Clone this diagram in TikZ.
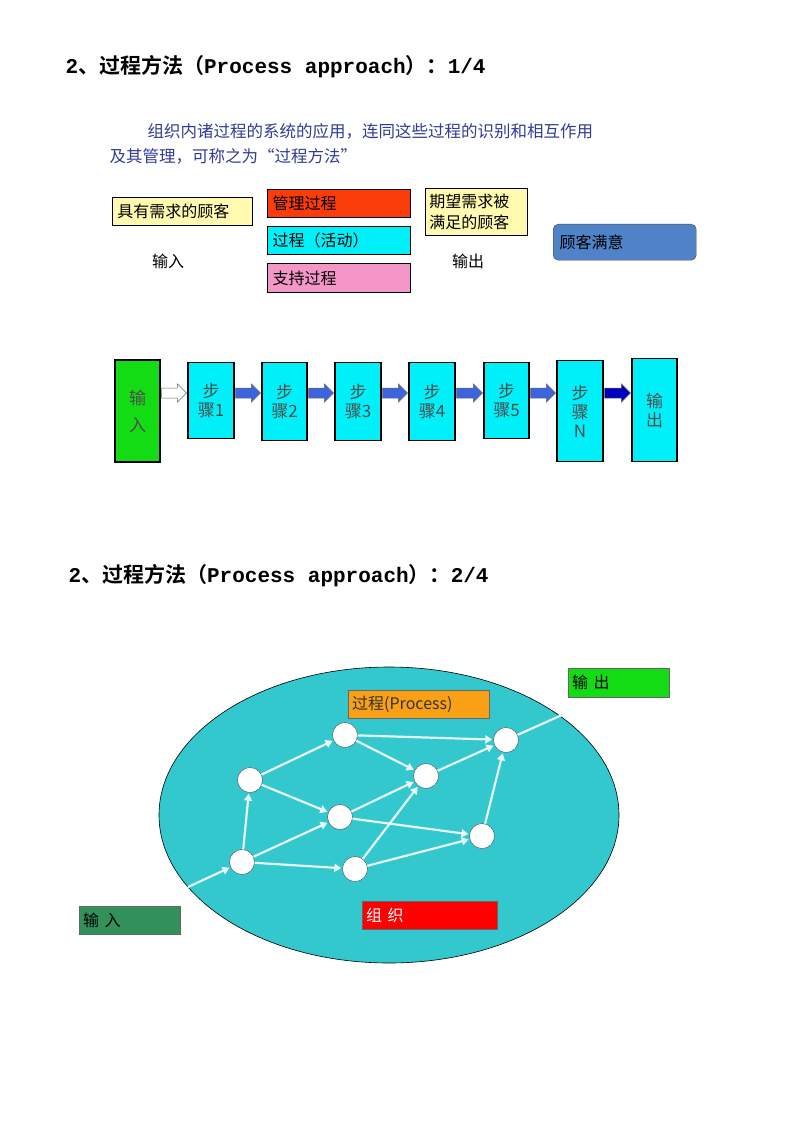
\documentclass[tikz,border=0pt]{standalone}
\usepackage{fontspec}
\setmainfont{Liberation Sans}
\newfontfamily\cjk{Noto Sans CJK SC}
\newfontfamily\cjkb{Noto Sans CJK SC Bold}
\newfontfamily\monob{Liberation Mono Bold}
\usetikzlibrary{arrows.meta}
\definecolor{cy}{RGB}{0,240,250}
\definecolor{ell}{RGB}{50,200,205}
\definecolor{gr}{RGB}{20,220,20}
\definecolor{ye}{RGB}{255,250,175}
\definecolor{rd}{RGB}{250,60,10}
\definecolor{pk}{RGB}{245,150,200}
\definecolor{bl}{RGB}{80,130,200}
\definecolor{arr}{RGB}{60,100,220}
\definecolor{dk}{RGB}{50,60,150}
\definecolor{or}{RGB}{250,160,20}
\definecolor{dg}{RGB}{50,145,90}
\begin{document}
\begin{tikzpicture}[x=1pt,y=-1pt,font=\cjk,
 bx/.style={draw=black,line width=0.8pt,anchor=north west,inner sep=4pt,align=left},
 stp/.style={draw=black,line width=1.2pt,fill=cy,align=center,font=\cjk\fontsize{17}{19}\selectfont,text=black!70},
 cir/.style={circle,draw=black!70,fill=white,minimum size=25pt,inner sep=0pt},
 wa/.style={draw=white!90!cyan,line width=2.2pt,-{Triangle[length=7pt,width=8pt]},shorten >=1pt},
 tl/.style={anchor=west,font=\fontsize{21}{24}\selectfont}]
\useasboundingbox (0,0) rectangle (793,1123);
\fill[white] (0,0) rectangle (793,1123);
% titles
\node[tl] (t1) at (62,67) {\monob 2\cjkb 、过程方法（\monob Process approach\cjkb ）：\monob 1/4};
\node[tl] (t2) at (65,576) {\monob 2\cjkb 、过程方法（\monob Process approach\cjkb ）：\monob 2/4};
% description
\node[anchor=north west,align=left,text=dk,font=\cjk\fontsize{16.5}{25}\selectfont] (desc) at (106,120) {\hspace*{38pt}组织内诸过程的系统的应用，连同这些过程的识别和相互作用\\及其管理，可称之为“过程方法”};
% boxes
\node[bx,fill=ye,minimum width=140pt,minimum height=28pt,text width=130pt,font=\cjk\fontsize{16}{18}\selectfont] (cust) at (112,197) {具有需求的顾客};
\node[bx,fill=rd,minimum width=143pt,minimum height=28pt,text width=133pt,line width=1.2pt,font=\cjk\fontsize{16}{18}\selectfont] (mgmt) at (267,189) {管理过程};
\node[bx,fill=cy,minimum width=143pt,minimum height=28pt,text width=133pt,line width=1.2pt,font=\cjk\fontsize{16}{18}\selectfont] (act) at (267,226) {过程（活动）};
\node[bx,fill=pk,minimum width=143pt,minimum height=29pt,text width=133pt,line width=1.2pt,font=\cjk\fontsize{16}{18}\selectfont] (sup) at (267,263) {支持过程};
\node[bx,fill=ye,minimum width=102pt,minimum height=47pt,text width=94pt,inner sep=3pt,font=\cjk\fontsize{16}{21}\selectfont] (exp) at (425,188) {期望需求被\\满足的顾客};
\node[draw=black!70,fill=bl,rounded corners=5pt,anchor=north west,minimum width=143pt,minimum height=36pt,font=\cjk\fontsize{16}{18}\selectfont,text width=130pt,align=left] (sat) at (553,224) {顾客满意};
\node[font=\cjk\fontsize{16}{18}\selectfont] (in1) at (168,261) {输入};
\node[font=\cjk\fontsize{16}{18}\selectfont] (out1) at (468,261) {输出};
% flow
\node[stp,fill=gr,minimum width=45pt,minimum height=102pt] (fin) at (137.5,411) {输\\[8pt]入};
\node[stp,minimum width=46pt,minimum height=76pt,anchor=north] (s1) at (211,362) {步\\骤1};
\node[stp,minimum width=45pt,minimum height=78pt,anchor=north] (s2) at (284.5,362) {步\\骤2};
\node[stp,minimum width=46pt,minimum height=78pt,anchor=north] (s3) at (358,362) {步\\骤3};
\node[stp,minimum width=46pt,minimum height=78pt,anchor=north] (s4) at (432,362) {步\\骤4};
\node[stp,minimum width=45pt,minimum height=76pt,anchor=north] (s5) at (506.5,362) {步\\骤5};
\node[stp,minimum width=46pt,minimum height=101pt,anchor=north] (sN) at (580,360) {步\\骤\\N};
\node[stp,minimum width=45pt,minimum height=103pt,anchor=north] (fout) at (654.5,358) {输\\出};
\foreach \a/\b/\c in {fin/s1/white,s1/s2/arr,s2/s3/arr,s3/s4/arr,s4/s5/arr,s5/sN/arr,sN/fout/blue!75!black}{
  \path (\a.east |- 0,393) coordinate (p) (\b.west |- 0,393) coordinate (q);
  \draw[fill=\c,draw=black!60,line width=0.5pt] ([xshift=1pt,yshift=-5pt]p) -- ([xshift=-10pt,yshift=-5pt]q) -- ([xshift=-10pt,yshift=-9pt]q) -- ([xshift=-1pt]q) -- ([xshift=-10pt,yshift=9pt]q) -- ([xshift=-10pt,yshift=5pt]q) -- ([xshift=1pt,yshift=5pt]p) -- cycle;
}
% ellipse
\draw[fill=ell,draw=black,line width=0.6pt] (389,815) ellipse [x radius=230, y radius=148];
\coordinate (ein) at (188,887);
\coordinate (eout) at (562,715);
\node[cir] (A) at (242,862) {};
\node[cir] (B) at (250,780) {};
\node[cir] (C) at (345,735) {};
\node[cir] (D) at (340,817) {};
\node[cir] (E) at (355,869) {};
\node[cir] (F) at (426,776) {};
\node[cir] (G) at (482,836) {};
\node[cir] (H) at (506,740) {};
\draw[wa] (ein) -- (A);
\foreach \a/\b in {A/B,A/D,A/E,B/C,B/D,C/H,C/F,D/F,D/G,E/F,E/G,G/H,F/H}
  \draw[wa] (\a) -- (\b);
\draw[white!90!cyan,line width=2.2pt] (H) -- (eout);
\node[draw=black!60,fill=or,anchor=north west,minimum width=141pt,minimum height=28pt,text width=133pt,align=left,inner sep=4pt,font=\cjk\fontsize{16}{18}\selectfont,text=black!80] (proc) at (348,690) {过程(Process)};
\node[draw=black!60,fill=red,anchor=north west,minimum width=135pt,minimum height=28pt,text width=127pt,align=left,inner sep=4pt,font=\cjk\fontsize{16}{18}\selectfont,text=white] (org) at (362,901) {组\ 织};
\node[draw=black!60,fill=dg,anchor=north west,minimum width=101pt,minimum height=28pt,text width=93pt,align=left,inner sep=4pt,font=\cjk\fontsize{16}{18}\selectfont] (bin) at (79,906) {输\ 入};
\node[draw=black!60,fill=gr,anchor=north west,minimum width=101pt,minimum height=29pt,text width=93pt,align=left,inner sep=4pt,font=\cjk\fontsize{16}{18}\selectfont] (bout) at (568,668) {输\ 出};
\end{tikzpicture}
\end{document}
